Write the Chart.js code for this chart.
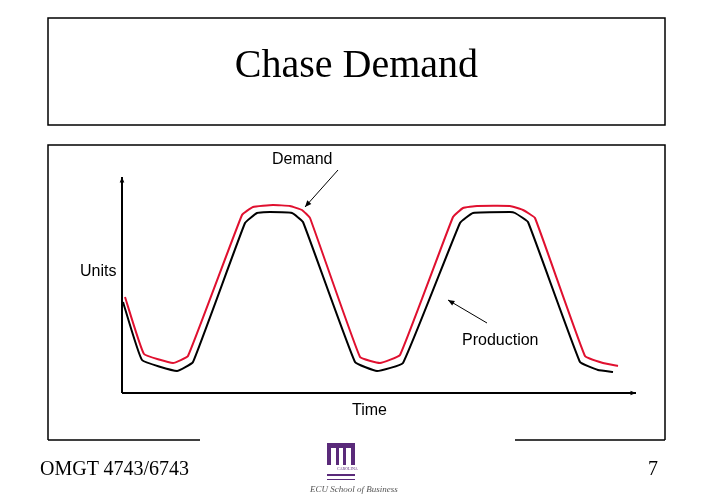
<!DOCTYPE html>
<html><head><meta charset="utf-8">
<script src="https://cdn.jsdelivr.net/npm/chart.js@4"></script>
<style>
body{margin:0;background:#fff;width:720px;height:498px;overflow:hidden;position:relative;font-family:"Liberation Sans",Arial,sans-serif}
#c{position:absolute;left:0;top:0}
.t{position:absolute;white-space:nowrap}
.serif{font-family:"Liberation Serif","Times New Roman",serif}
</style></head><body>
<canvas id="c" width="720" height="498"></canvas>
<div class="t serif" style="left:0;width:713px;top:40px;text-align:center;font-size:40px">Chase Demand</div>
<div class="t" style="left:272px;top:150px;font-size:16px">Demand</div>
<div class="t" style="left:80px;top:262px;font-size:16px">Units</div>
<div class="t" style="left:462px;top:331px;font-size:16px">Production</div>
<div class="t" style="left:352px;top:401px;font-size:16px">Time</div>
<div class="t serif" style="left:40px;top:457px;font-size:20px">OMGT 4743/6743</div>
<div class="t serif" style="left:648px;top:457px;font-size:20px">7</div>
<div class="t serif" style="left:310px;top:484px;font-size:9px;font-style:italic;color:#555">ECU School of Business</div>
<div class="t serif" style="left:337px;top:466px;font-size:4px;color:#5a2a7a">CAROLINA</div>
<script>
// values (time, units)
const demandTime = [3,22,51,66,120,131,151,168,180,188,238,258,278,331,341,355,388,401,413,463,481,496];
const demandUnits = [96,39,30,37,178,186,188,187,183,175,36,30,38,176,185,187,187,183,175,37,30,27];
const productionTime = [1,20,55,71,123,135,148,170,181,233,255,281,338,351,388,393,406,458,476,491];
const productionUnits = [91,33,22,31,170,180,181,180,171,31,22,30,170,180,181,180,171,31,23,21];

function pts(xs, ys) { return xs.map((x, i) => ({x: x, y: ys[i]})); }

function arrow(ctx, x1, y1, x2, y2, head) {
    ctx.beginPath(); ctx.moveTo(x1, y1); ctx.lineTo(x2, y2); ctx.stroke();
    const a = Math.atan2(y2 - y1, x2 - x1);
    ctx.beginPath();
    ctx.moveTo(x2, y2);
    ctx.lineTo(x2 - head * Math.cos(a - 0.4), y2 - head * Math.sin(a - 0.4));
    ctx.lineTo(x2 - head * Math.cos(a + 0.4), y2 - head * Math.sin(a + 0.4));
    ctx.closePath(); ctx.fill();
}

const slidePlugin = {
    id: 'slide',
    beforeDatasetsDraw(chart) {
        const ctx = chart.ctx, a = chart.chartArea;
        ctx.save();
        ctx.strokeStyle = '#000'; ctx.fillStyle = '#000';
        ctx.lineWidth = 1.5;
        ctx.strokeRect(48, 18, 617, 107);
        ctx.beginPath();
        ctx.moveTo(48, 440); ctx.lineTo(48, 145); ctx.lineTo(665, 145); ctx.lineTo(665, 440);
        ctx.moveTo(48, 440); ctx.lineTo(200, 440);
        ctx.moveTo(515, 440); ctx.lineTo(665, 440);
        ctx.stroke();
        ctx.lineWidth = 2;
        arrow(ctx, a.left, a.bottom, a.left, a.top - 6, 6);
        arrow(ctx, a.left, a.bottom, a.right + 4, a.bottom, 6);
        ctx.lineWidth = 1;
        arrow(ctx, 338, 170, 305, 207, 7);
        arrow(ctx, 487, 323, 448, 300, 7);
        // logo
        ctx.fillStyle = '#5a2a7a';
        ctx.fillRect(327, 443, 28, 22);
        ctx.fillStyle = '#fff';
        ctx.fillRect(331, 448, 5, 17); ctx.fillRect(339, 448, 4, 17); ctx.fillRect(346, 448, 5, 17);
        ctx.fillStyle = '#5a2a7a';
        ctx.fillRect(327, 474, 28, 2); ctx.fillRect(327, 479, 28, 1);
        ctx.restore();
    }
};

new Chart(document.getElementById('c'), {
    type: 'line',
    data: {
        datasets: [
            {label: 'Demand', data: pts(demandTime, demandUnits), borderColor: '#e0102f', borderWidth: 2, pointRadius: 0, tension: 0.1, clip: false},
            {label: 'Production', data: pts(productionTime, productionUnits), borderColor: '#000', borderWidth: 2, pointRadius: 0, tension: 0.1, clip: false}
        ]
    },
    options: {
        responsive: false,
        animation: false,
        layout: {padding: {left: 122, right: 88, top: 183, bottom: 105}},
        plugins: {legend: {display: false}, tooltip: {enabled: false}},
        scales: {
            x: {type: 'linear', min: 0, max: 510, display: false},
            y: {min: 0, max: 210, display: false}
        }
    },
    plugins: [slidePlugin]
});
</script>
</body></html>
